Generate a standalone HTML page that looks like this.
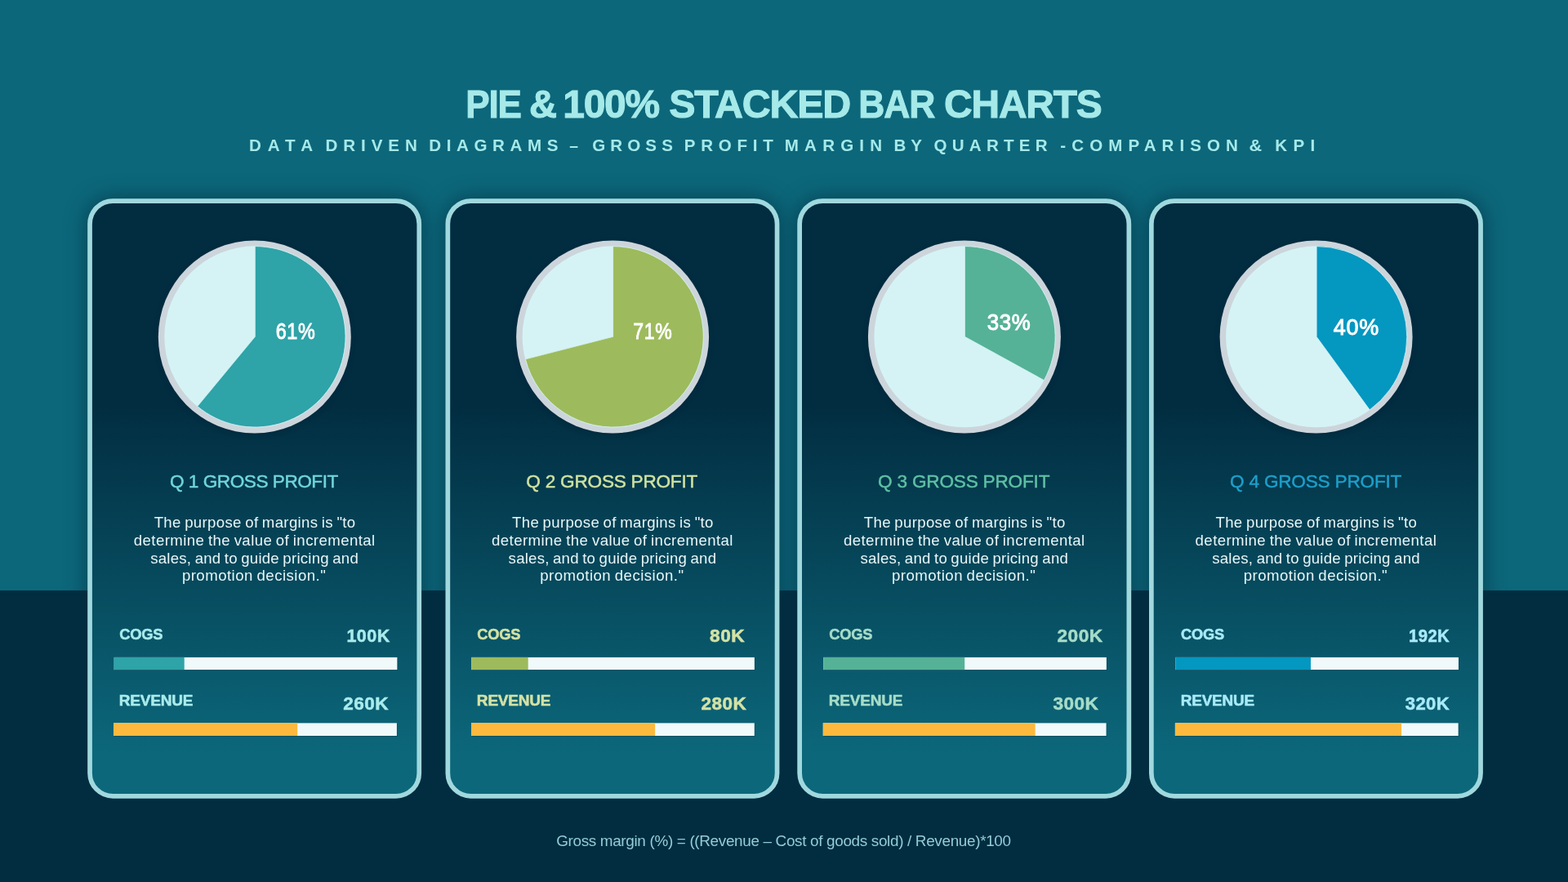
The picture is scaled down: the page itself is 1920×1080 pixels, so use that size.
<!DOCTYPE html><html lang="en"><head><meta charset="utf-8"><title>Pie &amp; 100% Stacked Bar Charts</title><style>
*{box-sizing:border-box;margin:0;padding:0}
html,body{width:1920px;height:1080px;overflow:hidden;background:#0c677a}
body{position:relative;font-family:"Liberation Sans",sans-serif}
.band{position:absolute;left:0;top:722.6px;width:1920px;height:358px;background:#022d41}
.shadow{position:absolute;top:243.2px;width:408.9px;height:734.5px;border-radius:31px;box-shadow:0 0 24px 2px rgba(2,40,58,0.55)}
.tx{position:absolute;white-space:pre;line-height:1;transform-origin:0 0}
.grp{font-size:0;line-height:0;font-weight:400}
.title{font-weight:700;color:#a6e9e9;-webkit-text-stroke:1px #a6e9e9;paint-order:stroke fill}
.sub{font-weight:700;color:#a6e9e9}
.foot{color:#93ccd5}
.head{font-weight:400;-webkit-text-stroke:0.45px currentColor}
.pct{color:#fff;-webkit-text-stroke:1px #fff;paint-order:stroke fill}
.lab{font-weight:700;-webkit-text-stroke:0.5px currentColor}
.val{font-weight:700;-webkit-text-stroke:0.5px currentColor}
.body{color:#e6f6f7;word-spacing:-1px}
svg.pies{position:absolute;left:0;top:0;width:1920px;height:1080px}
</style></head><body>
<div class="shadow" style="left:107.2px"></div>
<div class="shadow" style="left:545.5px"></div>
<div class="shadow" style="left:976.3px"></div>
<div class="shadow" style="left:1407.0px"></div>
<div class="band"></div>
<svg class="pies" viewBox="0 0 1920 1080"><defs><filter id="ps" x="-20%" y="-20%" width="140%" height="140%"><feGaussianBlur stdDeviation="3"/></filter><linearGradient id="cg" x1="0" y1="0" x2="0" y2="1"><stop offset="0" stop-color="#022d41"/><stop offset="0.345" stop-color="#022d41"/><stop offset="0.93" stop-color="#0c677a"/><stop offset="1" stop-color="#0c677a"/></linearGradient></defs>
<rect x="110.05" y="246.05" width="403.20" height="728.80" rx="28.15" fill="url(#cg)" stroke="#a0d8de" stroke-width="5.7"/>
<rect x="548.35" y="246.05" width="403.20" height="728.80" rx="28.15" fill="url(#cg)" stroke="#a0d8de" stroke-width="5.7"/>
<rect x="979.15" y="246.05" width="403.20" height="728.80" rx="28.15" fill="url(#cg)" stroke="#a0d8de" stroke-width="5.7"/>
<rect x="1409.85" y="246.05" width="403.20" height="728.80" rx="28.15" fill="url(#cg)" stroke="#a0d8de" stroke-width="5.7"/>
<circle cx="311.80" cy="414.45" r="118.0" fill="#011f2e" opacity="0.4" filter="url(#ps)"/><circle cx="311.80" cy="412.45" r="118.0" fill="#ccd5db"/><circle cx="312.30" cy="412.30" r="111.0" fill="#d5f3f5"/><path d="M312.30 412.30 L312.30 301.60 A110.7 110.7 0 1 1 241.74 497.60 Z" fill="#2ea3a8" stroke="#d5f3f5" stroke-width="0.8" stroke-linejoin="round"/>
<circle cx="750.10" cy="414.45" r="118.0" fill="#011f2e" opacity="0.4" filter="url(#ps)"/><circle cx="750.10" cy="412.45" r="118.0" fill="#ccd5db"/><circle cx="750.60" cy="412.30" r="111.0" fill="#d5f3f5"/><path d="M750.60 412.30 L750.60 301.60 A110.7 110.7 0 1 1 643.38 439.83 Z" fill="#9dbb5c" stroke="#d5f3f5" stroke-width="0.8" stroke-linejoin="round"/>
<circle cx="1180.90" cy="414.45" r="118.0" fill="#011f2e" opacity="0.4" filter="url(#ps)"/><circle cx="1180.90" cy="412.45" r="118.0" fill="#ccd5db"/><circle cx="1181.40" cy="412.30" r="111.0" fill="#d5f3f5"/><path d="M1181.40 412.30 L1181.40 301.60 A110.7 110.7 0 0 1 1278.41 465.63 Z" fill="#55b297" stroke="#d5f3f5" stroke-width="0.8" stroke-linejoin="round"/>
<circle cx="1611.60" cy="414.45" r="118.0" fill="#011f2e" opacity="0.4" filter="url(#ps)"/><circle cx="1611.60" cy="412.45" r="118.0" fill="#ccd5db"/><circle cx="1612.10" cy="412.30" r="111.0" fill="#d5f3f5"/><path d="M1612.10 412.30 L1612.10 301.60 A110.7 110.7 0 0 1 1677.17 501.86 Z" fill="#0497c0" stroke="#d5f3f5" stroke-width="0.8" stroke-linejoin="round"/>
<rect x="140.4" y="805.8" width="346.7" height="15.2" fill="#01303f" opacity="0.45"/><rect x="139.7" y="804.9" width="346.7" height="15.2" fill="#f0fafb"/><rect x="139.7" y="804.9" width="86.0" height="15.2" fill="#2ea3a8"/>
<rect x="139.8" y="886.3" width="346.8" height="15.6" fill="#01303f" opacity="0.45"/><rect x="139.1" y="885.4" width="346.8" height="15.6" fill="#f0fafb"/><rect x="139.1" y="885.4" width="225.1" height="15.6" fill="#fdb93d"/>
<rect x="577.9" y="805.8" width="346.7" height="15.2" fill="#01303f" opacity="0.45"/><rect x="577.2" y="804.9" width="346.7" height="15.2" fill="#f0fafb"/><rect x="577.2" y="804.9" width="69.5" height="15.2" fill="#9dbb5c"/>
<rect x="577.7" y="886.3" width="346.8" height="15.6" fill="#01303f" opacity="0.45"/><rect x="577.0" y="885.4" width="346.8" height="15.6" fill="#f0fafb"/><rect x="577.0" y="885.4" width="225.1" height="15.6" fill="#fdb93d"/>
<rect x="1008.9" y="805.8" width="346.7" height="15.2" fill="#01303f" opacity="0.45"/><rect x="1008.2" y="804.9" width="346.7" height="15.2" fill="#f0fafb"/><rect x="1008.2" y="804.9" width="173.0" height="15.2" fill="#55b297"/>
<rect x="1008.5" y="886.3" width="346.8" height="15.6" fill="#01303f" opacity="0.45"/><rect x="1007.8" y="885.4" width="346.8" height="15.6" fill="#f0fafb"/><rect x="1007.8" y="885.4" width="259.8" height="15.6" fill="#fdb93d"/>
<rect x="1440.0" y="805.8" width="346.7" height="15.2" fill="#01303f" opacity="0.45"/><rect x="1439.3" y="804.9" width="346.7" height="15.2" fill="#f0fafb"/><rect x="1439.3" y="804.9" width="165.7" height="15.2" fill="#0497c0"/>
<rect x="1439.6" y="886.3" width="346.8" height="15.6" fill="#01303f" opacity="0.45"/><rect x="1438.9" y="885.4" width="346.8" height="15.6" fill="#f0fafb"/><rect x="1438.9" y="885.4" width="277.1" height="15.6" fill="#fdb93d"/>
</svg>
<header>
<h1 class="grp"><span id="title0" class="tx title" style="left:0;top:104px;font-size:47.3px;letter-spacing:-1.200px;transform:translateX(570.20px) scaleX(0.9306)">PIE</span> <span id="title1" class="tx title" style="left:0;top:104px;font-size:47.3px;letter-spacing:-1.200px;transform:translateX(648.01px) scaleX(0.9971)">&amp;</span> <span id="title2" class="tx title" style="left:0;top:104px;font-size:47.3px;letter-spacing:-1.200px;transform:translateX(689.17px) scaleX(1.0147)">100%</span> <span id="title3" class="tx title" style="left:0;top:104px;font-size:47.3px;letter-spacing:-1.200px;transform:translateX(819.22px) scaleX(1.0230)">STACKED</span> <span id="title4" class="tx title" style="left:0;top:104px;font-size:47.3px;letter-spacing:-1.200px;transform:translateX(1051.29px) scaleX(0.9385)">BAR</span> <span id="title5" class="tx title" style="left:0;top:104px;font-size:47.3px;letter-spacing:-1.200px;transform:translateX(1156.11px) scaleX(1.0135)">CHARTS</span></h1>
<h2 class="grp"><span id="sub0" class="tx sub" style="left:0;top:169px;font-size:19.6px;letter-spacing:7.598px;transform:translateX(304.98px) scaleX(1.0500)">DATA</span> <span id="sub1" class="tx sub" style="left:0;top:169px;font-size:19.6px;letter-spacing:6.612px;transform:translateX(398.41px) scaleX(1.0500)">DRIVEN</span> <span id="sub2" class="tx sub" style="left:0;top:169px;font-size:19.6px;letter-spacing:6.311px;transform:translateX(525.17px) scaleX(1.0500)">DIAGRAMS</span> <span id="sub3" class="tx sub" style="left:0;top:169px;font-size:19.6px;letter-spacing:5.000px;transform:translateX(697.31px) scaleX(0.9829)">–</span> <span id="sub4" class="tx sub" style="left:0;top:169px;font-size:19.6px;letter-spacing:5.807px;transform:translateX(725.19px) scaleX(1.0500)">GROSS</span> <span id="sub5" class="tx sub" style="left:0;top:169px;font-size:19.6px;letter-spacing:6.374px;transform:translateX(837.84px) scaleX(1.0500)">PROFIT</span> <span id="sub6" class="tx sub" style="left:0;top:169px;font-size:19.6px;letter-spacing:6.829px;transform:translateX(960.79px) scaleX(1.0500)">MARGIN</span> <span id="sub7" class="tx sub" style="left:0;top:169px;font-size:19.6px;letter-spacing:5.674px;transform:translateX(1094.41px) scaleX(1.0500)">BY</span> <span id="sub8" class="tx sub" style="left:0;top:169px;font-size:19.6px;letter-spacing:5.903px;transform:translateX(1143.59px) scaleX(1.0500)">QUARTER</span> <span id="sub9" class="tx sub" style="left:0;top:169px;font-size:19.6px;letter-spacing:6.717px;transform:translateX(1298.34px) scaleX(1.0500)">-COMPARISON</span> <span id="sub10" class="tx sub" style="left:0;top:169px;font-size:19.6px;letter-spacing:5.000px;transform:translateX(1529.56px) scaleX(1.1056)">&amp;</span> <span id="sub11" class="tx sub" style="left:0;top:169px;font-size:19.6px;letter-spacing:7.010px;transform:translateX(1561.17px) scaleX(1.0500)">KPI</span></h2>
</header>
<main>
<section class="grp" aria-label="Quarter 1">
<div id="p1" class="tx pct" style="left:0;top:391px;font-size:28.4px;letter-spacing:0.800px;transform:translateX(337.69px) scaleX(0.8219)">61%</div>
<h3 id="h1" class="tx head" style="left:207.97px;top:579px;font-size:22.6px;letter-spacing:-0.475px;color:#70d6db">Q 1 GROSS PROFIT</h3>
<p class="grp"><span id="b1_0" class="tx body" style="left:188.66px;top:631px;font-size:18.6px;letter-spacing:0.332px">The purpose of margins is &quot;to</span> <span id="b1_1" class="tx body" style="left:163.77px;top:653px;font-size:18.6px;letter-spacing:0.430px">determine the value of incremental</span> <span id="b1_2" class="tx body" style="left:184.21px;top:675px;font-size:18.6px;letter-spacing:0.245px">sales, and to guide pricing and</span> <span id="b1_3" class="tx body" style="left:222.88px;top:696px;font-size:18.6px;letter-spacing:0.478px">promotion decision.&quot;</span></p>
<div id="cl1" class="tx lab" style="left:0;top:767px;font-size:19.0px;letter-spacing:-0.200px;transform:translateX(146.26px) scaleX(0.9632);color:#a9ebec">COGS</div> <div id="cv1" class="tx val" style="left:0;top:768px;font-size:22.4px;letter-spacing:0.450px;transform:translateX(424.47px) scaleX(0.9614);color:#a9ebec">100K</div>
<div id="rl1" class="tx lab" style="left:0;top:848px;font-size:19.0px;letter-spacing:-0.200px;transform:translateX(145.76px) scaleX(0.9998);color:#a9ebec">REVENUE</div> <div id="rv1" class="tx val" style="left:0;top:851px;font-size:22.4px;letter-spacing:0.450px;transform:translateX(420.37px) scaleX(1.0075);color:#a9ebec">260K</div>
</section>
<section class="grp" aria-label="Quarter 2">
<div id="p2" class="tx pct" style="left:0;top:391px;font-size:28.4px;letter-spacing:0.800px;transform:translateX(775.32px) scaleX(0.8110)">71%</div>
<h3 id="h2" class="tx head" style="left:644.36px;top:579px;font-size:22.6px;letter-spacing:-0.233px;color:#cfe3a0">Q 2 GROSS PROFIT</h3>
<p class="grp"><span id="b2_0" class="tx body" style="left:627.07px;top:631px;font-size:18.6px;letter-spacing:0.326px">The purpose of margins is &quot;to</span> <span id="b2_1" class="tx body" style="left:602.07px;top:653px;font-size:18.6px;letter-spacing:0.428px">determine the value of incremental</span> <span id="b2_2" class="tx body" style="left:622.61px;top:675px;font-size:18.6px;letter-spacing:0.240px">sales, and to guide pricing and</span> <span id="b2_3" class="tx body" style="left:661.22px;top:696px;font-size:18.6px;letter-spacing:0.472px">promotion decision.&quot;</span></p>
<div id="cl2" class="tx lab" style="left:0;top:767px;font-size:19.0px;letter-spacing:-0.200px;transform:translateX(584.28px) scaleX(0.9608);color:#d3e2a6">COGS</div> <div id="cv2" class="tx val" style="left:0;top:768px;font-size:22.4px;letter-spacing:0.450px;transform:translateX(869.06px) scaleX(1.0151);color:#d3e2a6">80K</div>
<div id="rl2" class="tx lab" style="left:0;top:848px;font-size:19.0px;letter-spacing:-0.200px;transform:translateX(583.87px) scaleX(0.9994);color:#d3e2a6">REVENUE</div> <div id="rv2" class="tx val" style="left:0;top:851px;font-size:22.4px;letter-spacing:0.450px;transform:translateX(858.49px) scaleX(1.0083);color:#d3e2a6">280K</div>
</section>
<section class="grp" aria-label="Quarter 3">
<div id="p3" class="tx pct" style="left:0;top:380px;font-size:28.4px;letter-spacing:0.800px;transform:translateX(1208.64px) scaleX(0.9078)">33%</div>
<h3 id="h3" class="tx head" style="left:1075.01px;top:579px;font-size:22.6px;letter-spacing:-0.199px;color:#5fc0a4">Q 3 GROSS PROFIT</h3>
<p class="grp"><span id="b3_0" class="tx body" style="left:1057.85px;top:631px;font-size:18.6px;letter-spacing:0.327px">The purpose of margins is &quot;to</span> <span id="b3_1" class="tx body" style="left:1032.91px;top:653px;font-size:18.6px;letter-spacing:0.424px">determine the value of incremental</span> <span id="b3_2" class="tx body" style="left:1053.45px;top:675px;font-size:18.6px;letter-spacing:0.238px">sales, and to guide pricing and</span> <span id="b3_3" class="tx body" style="left:1091.98px;top:696px;font-size:18.6px;letter-spacing:0.477px">promotion decision.&quot;</span></p>
<div id="cl3" class="tx lab" style="left:0;top:767px;font-size:19.0px;letter-spacing:-0.200px;transform:translateX(1015.29px) scaleX(0.9597);color:#a6dcc8">COGS</div> <div id="cv3" class="tx val" style="left:0;top:768px;font-size:22.4px;letter-spacing:0.450px;transform:translateX(1294.47px) scaleX(1.0159);color:#a6dcc8">200K</div>
<div id="rl3" class="tx lab" style="left:0;top:848px;font-size:19.0px;letter-spacing:-0.200px;transform:translateX(1014.79px) scaleX(0.9992);color:#a6dcc8">REVENUE</div> <div id="rv3" class="tx val" style="left:0;top:851px;font-size:22.4px;letter-spacing:0.450px;transform:translateX(1289.45px) scaleX(1.0096);color:#a6dcc8">300K</div>
</section>
<section class="grp" aria-label="Quarter 4">
<div id="p4" class="tx pct" style="left:0;top:386px;font-size:28.4px;letter-spacing:0.800px;transform:translateX(1632.80px) scaleX(0.9504)">40%</div>
<h3 id="h4" class="tx head" style="left:1506.00px;top:579px;font-size:22.6px;letter-spacing:-0.202px;color:#1e9fc9">Q 4 GROSS PROFIT</h3>
<p class="grp"><span id="b4_0" class="tx body" style="left:1488.53px;top:631px;font-size:18.6px;letter-spacing:0.324px">The purpose of margins is &quot;to</span> <span id="b4_1" class="tx body" style="left:1463.61px;top:653px;font-size:18.6px;letter-spacing:0.423px">determine the value of incremental</span> <span id="b4_2" class="tx body" style="left:1484.24px;top:675px;font-size:18.6px;letter-spacing:0.238px">sales, and to guide pricing and</span> <span id="b4_3" class="tx body" style="left:1522.78px;top:696px;font-size:18.6px;letter-spacing:0.475px">promotion decision.&quot;</span></p>
<div id="cl4" class="tx lab" style="left:0;top:767px;font-size:19.0px;letter-spacing:-0.200px;transform:translateX(1446.10px) scaleX(0.9583);color:#a8eaf9">COGS</div> <div id="cv4" class="tx val" style="left:0;top:768px;font-size:22.4px;letter-spacing:0.450px;transform:translateX(1725.03px) scaleX(0.9053);color:#a8eaf9">192K</div>
<div id="rl4" class="tx lab" style="left:0;top:848px;font-size:19.0px;letter-spacing:-0.200px;transform:translateX(1445.74px) scaleX(0.9959);color:#a8eaf9">REVENUE</div> <div id="rv4" class="tx val" style="left:0;top:851px;font-size:22.4px;letter-spacing:0.450px;transform:translateX(1720.70px) scaleX(0.9843);color:#a8eaf9">320K</div>
</section>
</main>
<footer class="grp"><div id="foot" class="tx foot" style="left:681.13px;top:1021px;font-size:18.9px;letter-spacing:-0.330px">Gross margin (%) = ((Revenue – Cost of goods sold) / Revenue)*100</div></footer>
</body></html>
